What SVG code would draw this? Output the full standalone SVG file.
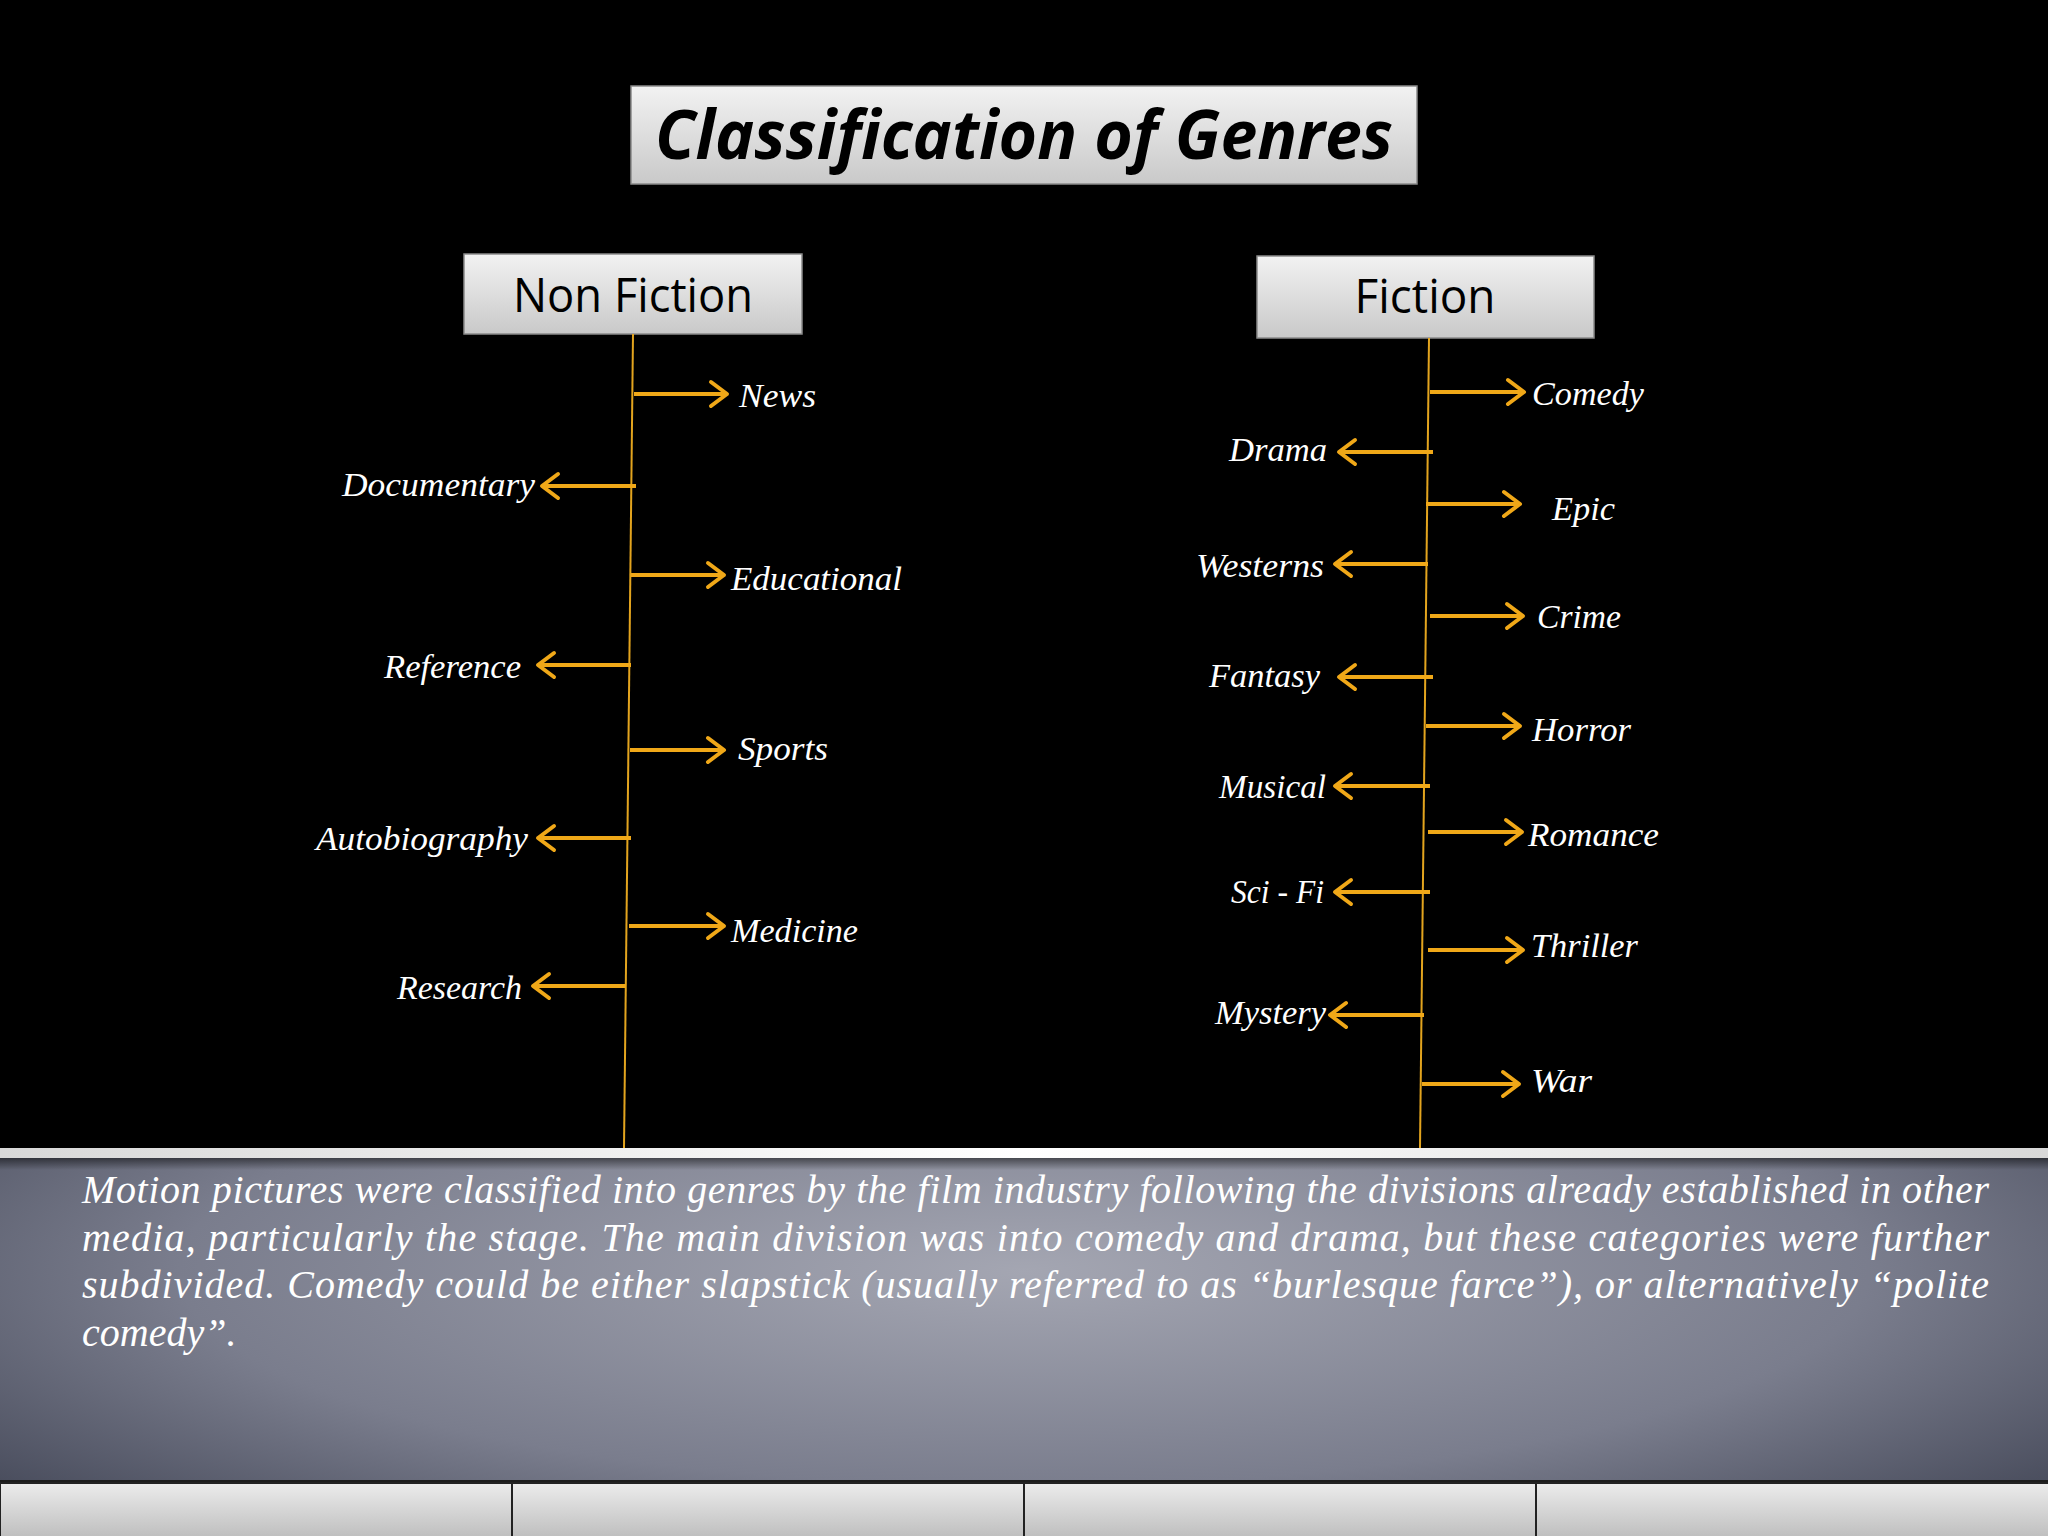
<svg xmlns="http://www.w3.org/2000/svg" width="2048" height="1536" viewBox="0 0 2048 1536">
<defs>
<linearGradient id="boxg" x1="0" y1="0" x2="0" y2="1">
<stop offset="0" stop-color="#f2f2f2"/><stop offset="1" stop-color="#c9c9c9"/>
</linearGradient>
<linearGradient id="tabg" x1="0" y1="0" x2="0" y2="1">
<stop offset="0" stop-color="#ececec"/><stop offset="1" stop-color="#bdbdbd"/>
</linearGradient>
<linearGradient id="stripg" x1="0" y1="0" x2="1" y2="0">
<stop offset="0" stop-color="#d8d8d8"/><stop offset="0.5" stop-color="#ffffff"/><stop offset="1" stop-color="#d8d8d8"/>
</linearGradient>
<radialGradient id="panelg" cx="0.5" cy="0.35" r="0.75" gradientTransform="translate(0.5 0.35) scale(1 1.6) translate(-0.5 -0.35)">
<stop offset="0" stop-color="#a4a6b2"/><stop offset="0.55" stop-color="#7a7d8d"/><stop offset="1" stop-color="#343848"/>
</radialGradient>
<linearGradient id="shadowg" x1="0" y1="0" x2="0" y2="1">
<stop offset="0" stop-color="#000" stop-opacity="0.5"/><stop offset="1" stop-color="#000" stop-opacity="0"/>
</linearGradient>
<marker id="ah" markerUnits="userSpaceOnUse" markerWidth="24" markerHeight="30" viewBox="0 0 24 30" refX="20" refY="15" orient="auto">
<path d="M4,3 L20,15 L4,27" fill="none" stroke="#f0a818" stroke-width="4" stroke-linecap="round" stroke-linejoin="round"/>
</marker>
<style>
.box{fill:url(#boxg);stroke:#8a8a8a;stroke-width:1.5}
.head{font-family:"Open Sans","Liberation Sans",sans-serif;fill:#000}
.lbl{font-family:"Liberation Serif",serif;font-style:italic;font-size:34px;fill:#fff}
.stem{stroke:#e3a41e;stroke-width:2;fill:none}
.arr{stroke:#f0a818;stroke-width:4;fill:none;marker-end:url(#ah)}
.para{font-family:"Liberation Serif",serif;font-style:italic;font-size:40px;fill:#fff}
.tab{fill:url(#tabg);stroke:#222;stroke-width:2}
</style>
</defs>
<rect x="0" y="0" width="2048" height="1536" fill="#000"/>
<rect x="0" y="1148" width="2048" height="10" fill="url(#stripg)"/>
<rect x="0" y="1158" width="2048" height="324" fill="url(#panelg)"/>
<rect x="0" y="1158" width="2048" height="12" fill="url(#shadowg)"/>
<rect x="0" y="1480" width="2048" height="3" fill="#1c1c1c"/>
<g id="tabs">
<rect class="tab" x="0" y="1483" width="512" height="56"/>
<rect class="tab" x="512" y="1483" width="512" height="56"/>
<rect class="tab" x="1024" y="1483" width="512" height="56"/>
<rect class="tab" x="1536" y="1483" width="514" height="56"/>
</g>
<g id="title">
<rect class="box" x="631" y="86" width="786" height="98"/>
<text class="head" x="1024" y="159" text-anchor="middle" font-size="68" font-weight="bold" font-style="italic" textLength="738" lengthAdjust="spacingAndGlyphs">Classification of Genres</text>
</g>
<g id="nonfiction">
<rect class="box" x="464" y="254" width="338" height="80"/>
<text class="head" x="633" y="312" text-anchor="middle" font-size="48" textLength="240" lengthAdjust="spacingAndGlyphs">Non Fiction</text>
</g>
<g id="fiction">
<rect class="box" x="1257" y="256" width="337" height="82"/>
<text class="head" x="1425" y="313" text-anchor="middle" font-size="48" textLength="141" lengthAdjust="spacingAndGlyphs">Fiction</text>
</g>
<g id="connectors">
<line class="stem" x1="633" y1="334" x2="624" y2="1148"/>
<line class="stem" x1="1429" y1="338" x2="1420" y2="1148"/>
<line class="arr" x1="634" y1="394" x2="727" y2="394"/>
<line class="arr" x1="636" y1="486" x2="542" y2="486"/>
<line class="arr" x1="631" y1="575" x2="724" y2="575"/>
<line class="arr" x1="631" y1="665" x2="538" y2="665"/>
<line class="arr" x1="630" y1="750" x2="724" y2="750"/>
<line class="arr" x1="631" y1="838" x2="538" y2="838"/>
<line class="arr" x1="629" y1="926" x2="724" y2="926"/>
<line class="arr" x1="626" y1="986" x2="533" y2="986"/>
<line class="arr" x1="1430" y1="392" x2="1524" y2="392"/>
<line class="arr" x1="1433" y1="452" x2="1339" y2="452"/>
<line class="arr" x1="1426" y1="504" x2="1520" y2="504"/>
<line class="arr" x1="1428" y1="564" x2="1335" y2="564"/>
<line class="arr" x1="1430" y1="616" x2="1523" y2="616"/>
<line class="arr" x1="1433" y1="677" x2="1339" y2="677"/>
<line class="arr" x1="1426" y1="726" x2="1520" y2="726"/>
<line class="arr" x1="1430" y1="786" x2="1335" y2="786"/>
<line class="arr" x1="1428" y1="832" x2="1522" y2="832"/>
<line class="arr" x1="1430" y1="892" x2="1335" y2="892"/>
<line class="arr" x1="1428" y1="950" x2="1523" y2="950"/>
<line class="arr" x1="1424" y1="1015" x2="1330" y2="1015"/>
<line class="arr" x1="1422" y1="1084" x2="1519" y2="1084"/>
</g>
<g id="nf-news"><text class="lbl" x="739" y="407" textLength="77" lengthAdjust="spacingAndGlyphs">News</text></g>
<g id="nf-documentary"><text class="lbl" x="535" y="496" text-anchor="end" textLength="193" lengthAdjust="spacingAndGlyphs">Documentary</text></g>
<g id="nf-educational"><text class="lbl" x="731" y="590" textLength="171" lengthAdjust="spacingAndGlyphs">Educational</text></g>
<g id="nf-reference"><text class="lbl" x="521" y="678" text-anchor="end" textLength="137" lengthAdjust="spacingAndGlyphs">Reference</text></g>
<g id="nf-sports"><text class="lbl" x="738" y="760" textLength="90" lengthAdjust="spacingAndGlyphs">Sports</text></g>
<g id="nf-autobiography"><text class="lbl" x="528" y="850" text-anchor="end" textLength="212" lengthAdjust="spacingAndGlyphs">Autobiography</text></g>
<g id="nf-medicine"><text class="lbl" x="731" y="942" textLength="127" lengthAdjust="spacingAndGlyphs">Medicine</text></g>
<g id="nf-research"><text class="lbl" x="522" y="999" text-anchor="end" textLength="125" lengthAdjust="spacingAndGlyphs">Research</text></g>
<g id="f-comedy"><text class="lbl" x="1532" y="405" textLength="112" lengthAdjust="spacingAndGlyphs">Comedy</text></g>
<g id="f-drama"><text class="lbl" x="1327" y="461" text-anchor="end" textLength="98" lengthAdjust="spacingAndGlyphs">Drama</text></g>
<g id="f-epic"><text class="lbl" x="1552" y="520" textLength="63" lengthAdjust="spacingAndGlyphs">Epic</text></g>
<g id="f-westerns"><text class="lbl" x="1324" y="577" text-anchor="end" textLength="128" lengthAdjust="spacingAndGlyphs">Westerns</text></g>
<g id="f-crime"><text class="lbl" x="1537" y="628" textLength="84" lengthAdjust="spacingAndGlyphs">Crime</text></g>
<g id="f-fantasy"><text class="lbl" x="1320" y="687" text-anchor="end" textLength="111" lengthAdjust="spacingAndGlyphs">Fantasy</text></g>
<g id="f-horror"><text class="lbl" x="1532" y="741" textLength="99" lengthAdjust="spacingAndGlyphs">Horror</text></g>
<g id="f-musical"><text class="lbl" x="1326" y="798" text-anchor="end" textLength="107" lengthAdjust="spacingAndGlyphs">Musical</text></g>
<g id="f-romance"><text class="lbl" x="1528" y="846" textLength="131" lengthAdjust="spacingAndGlyphs">Romance</text></g>
<g id="f-scifi"><text class="lbl" x="1324" y="903" text-anchor="end" textLength="93" lengthAdjust="spacingAndGlyphs">Sci - Fi</text></g>
<g id="f-thriller"><text class="lbl" x="1531" y="957" textLength="107" lengthAdjust="spacingAndGlyphs">Thriller</text></g>
<g id="f-mystery"><text class="lbl" x="1326" y="1024" text-anchor="end" textLength="111" lengthAdjust="spacingAndGlyphs">Mystery</text></g>
<g id="f-war"><text class="lbl" x="1531" y="1092" textLength="61" lengthAdjust="spacingAndGlyphs">War</text></g>
<g id="paragraph">
<text class="para" x="82" y="1203" textLength="1907" lengthAdjust="spacing">Motion pictures were classified into genres by the film industry following the divisions already established in other</text>
<text class="para" x="82" y="1251" textLength="1907" lengthAdjust="spacing">media, particularly the stage. The main division was into comedy and drama, but these categories were further</text>
<text class="para" x="82" y="1298" textLength="1907" lengthAdjust="spacing">subdivided. Comedy could be either slapstick (usually referred to as “burlesque farce”), or alternatively “polite</text>
<text class="para" x="82" y="1346">comedy”.</text>
</g>
</svg>
